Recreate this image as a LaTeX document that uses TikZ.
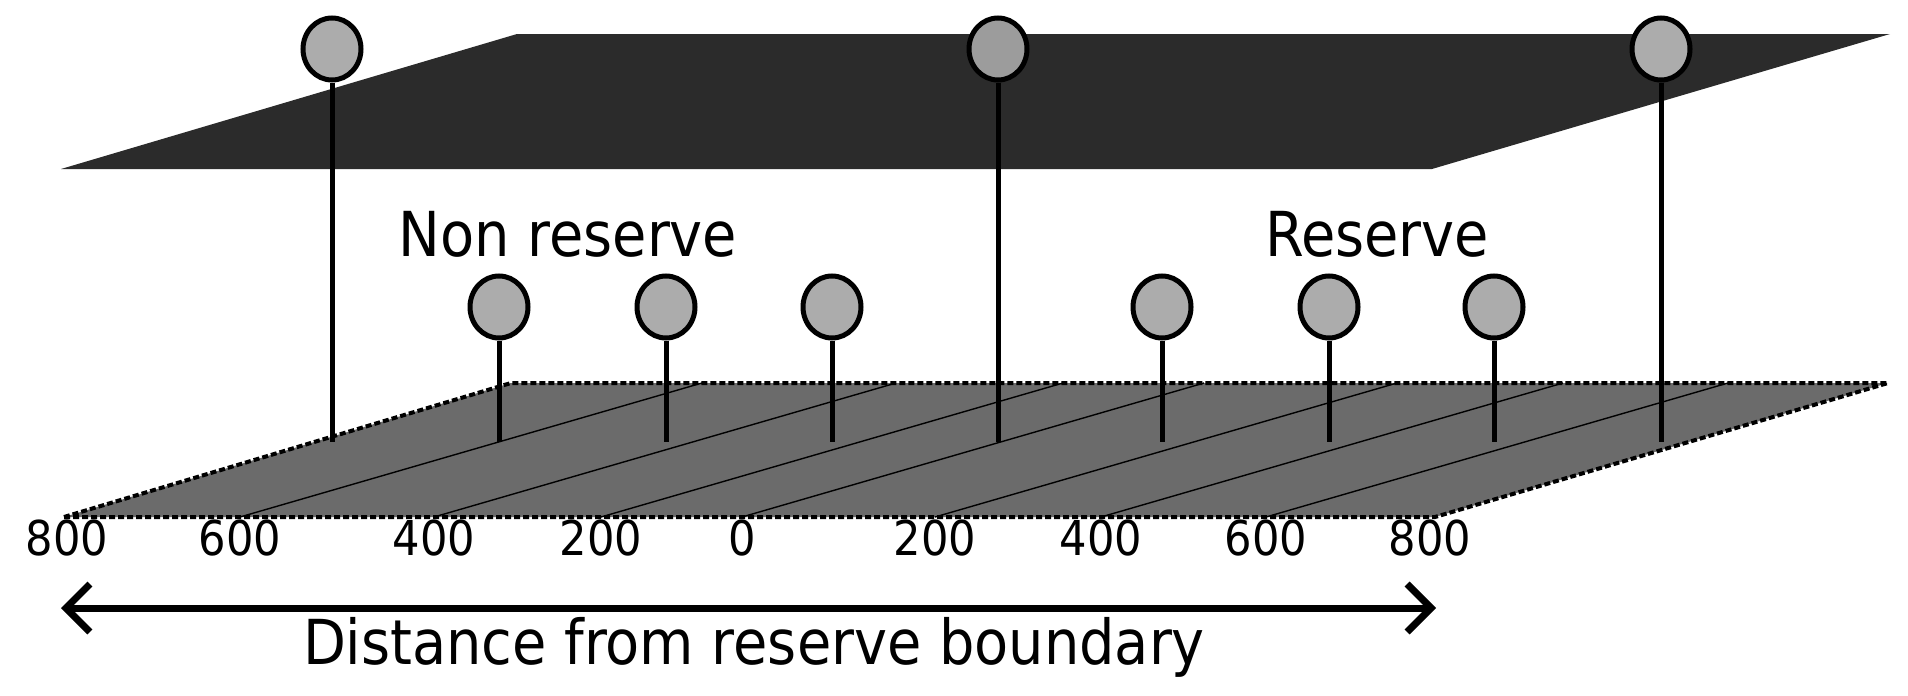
\documentclass[tikz,border=0pt]{standalone}
\usepackage{fontspec}
\setmainfont{DejaVu Sans Condensed}
\usetikzlibrary{arrows.meta,shapes.geometric}
\begin{document}
\begin{tikzpicture}[x=0.5pt,y=-0.5pt,
  ball/.style={ellipse,draw=black,line width=2.5pt,minimum width=29pt,minimum height=31pt,inner sep=0pt,fill=#1},
  ball/.default={gray!65},
  stick/.style={line width=2.5pt},
  grid/.style={line width=0.7pt},
  lab/.style={font=\fontsize{24}{24}\selectfont,inner sep=0pt}]
\useasboundingbox (0,0) rectangle (1908,696);
% top plane
\fill[black!83] (61,169) -- (517,34) -- (1890,34) -- (1432,169) -- cycle;
% bottom plane
\fill[black!58] (64,517) -- (511,383) -- (1888,383) -- (1435,517) -- cycle;
\foreach \b in {240,434,601,742,935,1101,1266}
  \draw[grid] (\b,517) -- (\b+462,383);
\draw[line width=2pt,dash pattern=on 3pt off 1.5pt] (64,517) -- (511,383) -- (1888,383) -- (1435,517) -- cycle;
% tall trees
\foreach \n/\x/\c in {t1/332/gray!65,t2/998/gray!78,t3/1661/gray!65}{
  \node[ball=\c] (\n) at (\x,49) {};
  \coordinate (\n b) at (\x,442);
  \draw[stick] (\n.south) -- (\n b);
}
% short trees
\foreach \n/\x in {s1/499,s2/666,s3/832,s4/1162,s5/1329,s6/1494}{
  \node[ball=gray!65] (\n) at (\x,307) {};
  \coordinate (\n b) at (\x,442);
  \draw[stick] (\n.south) -- (\n b);
}
\node[font=\fontsize{31}{31}\selectfont,inner sep=0pt] (nr) at (568,234) {Non reserve};
\node[font=\fontsize{31}{31}\selectfont,inner sep=0pt] (rs) at (1377,234) {Reserve};
\foreach \n/\x/\t in {l1/67/800,l2/240/600,l3/434/400,l4/601/200,l5/742/0,l6/935/200,l7/1101/400,l8/1266/600,l9/1430/800}
  \node[lab] (\n) at (\x,538) {\t};
\coordinate (al) at (61,608);
\coordinate (ar) at (1436,608);
\draw[line width=3.5pt,{Straight Barb[length=12pt,width=24pt]}-{Straight Barb[length=12pt,width=24pt]}] (al) -- (ar);
\node[font=\fontsize{31}{31}\selectfont,inner sep=0pt] (ds) at (754,647) {Distance from reserve boundary};
\end{tikzpicture}
\end{document}
